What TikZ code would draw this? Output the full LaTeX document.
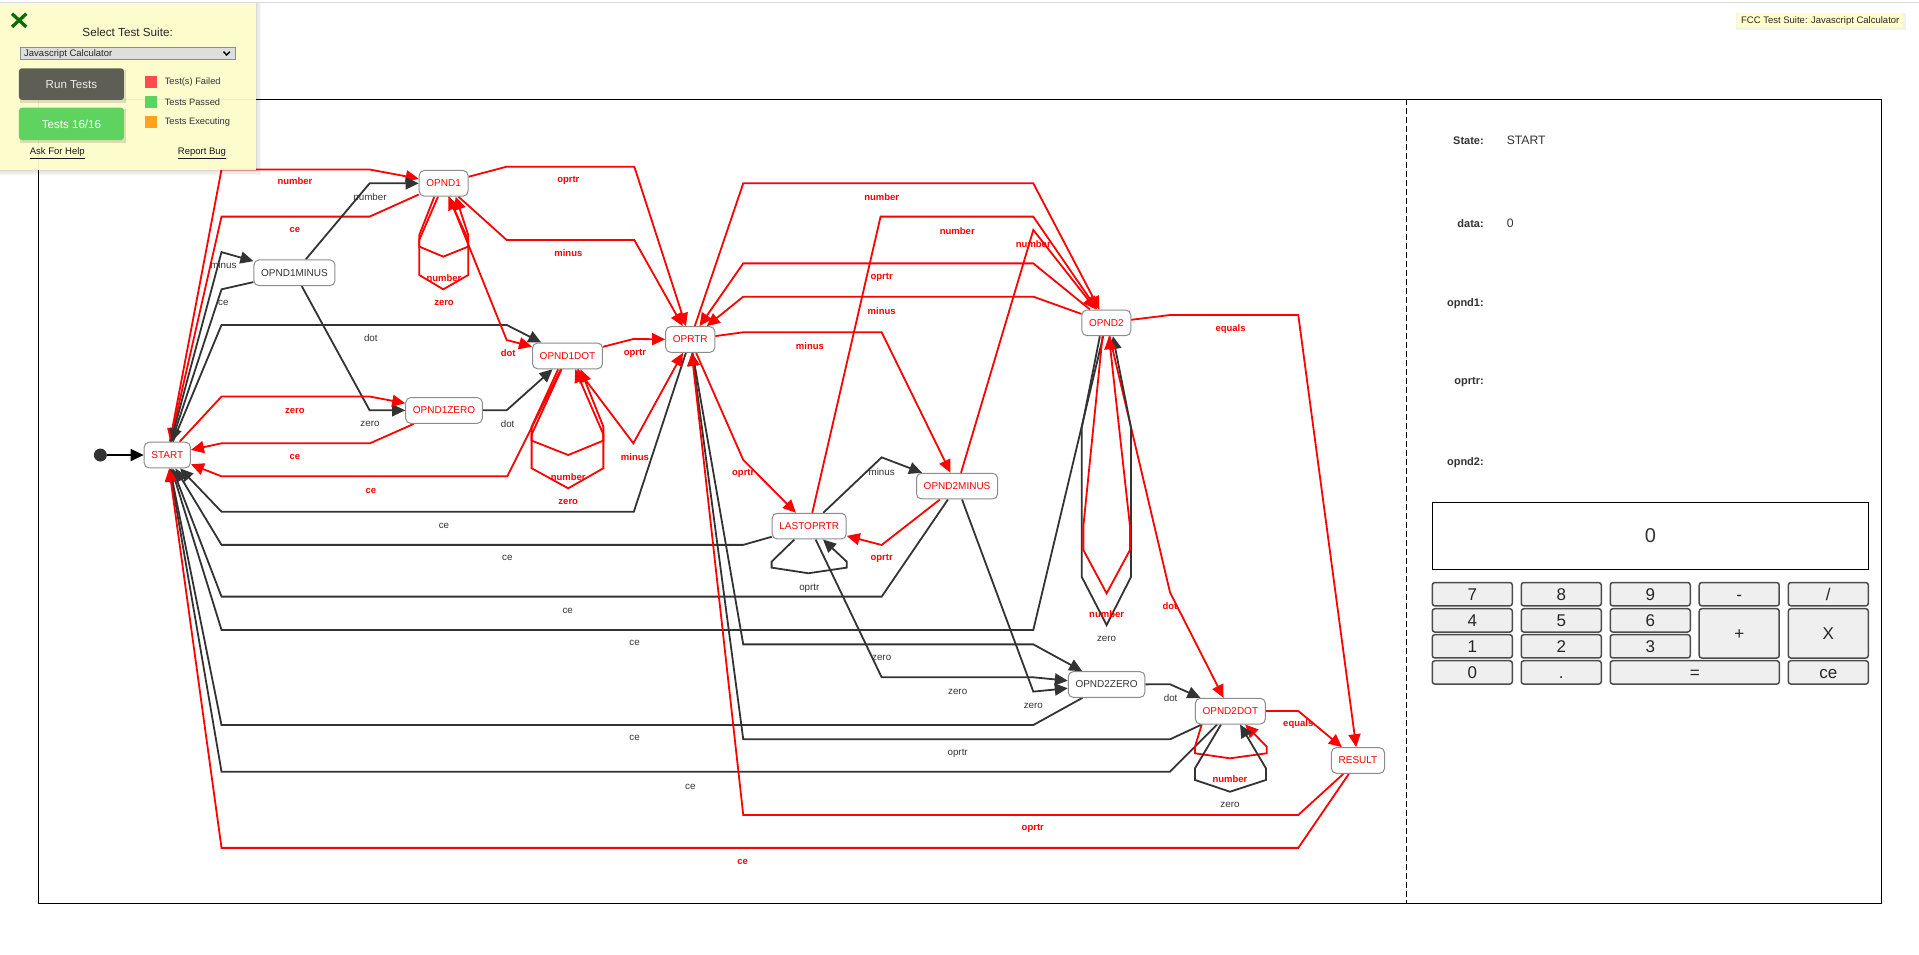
\documentclass[tikz,border=0pt]{standalone}
\usepackage{fontspec}
\setmainfont{Liberation Sans}
\usetikzlibrary{arrows.meta}
\definecolor{dk}{HTML}{333333}
\definecolor{panelbg}{HTML}{FFFFCC}
\definecolor{runbtn}{HTML}{5F5E55}
\definecolor{passbtn}{HTML}{5FD35F}
\definecolor{xgreen}{HTML}{0B6B0B}
\definecolor{legred}{HTML}{FF4B4B}
\definecolor{legorange}{HTML}{FFA31F}
\definecolor{btnfill}{HTML}{EFEFEF}
\pgfdeclarelayer{bg}\pgfdeclarelayer{edges}\pgfdeclarelayer{top}
\pgfsetlayers{bg,edges,main,top}
\tikzset{
 st/.style={draw=black!45, fill=white, rounded corners=5pt, line width=1pt, minimum height=25.7pt, inner xsep=7.2pt, inner ysep=0pt, font=\fontsize{10}{12}\selectfont},
 sr/.style={st, text=red},
 sk/.style={st, text=dk},
 tipx/.style={-{Triangle[length=13pt,width=12pt]}},
 er/.style={draw=red, line width=1.8pt, tipx},
 ed/.style={draw=dk, line width=1.8pt, tipx},
 lr/.style={text=red, inner sep=0pt, font=\bfseries\fontsize{9.5}{11}\selectfont},
 ld/.style={text=dk, inner sep=0pt, font=\fontsize{9.8}{11}\selectfont},
 btn/.style={draw=black!70, fill=btnfill, line width=1.5pt, rounded corners=2.5pt, inner sep=0pt, minimum width=80pt, minimum height=23.3pt, text height=12.2pt, text depth=0pt, font=\fontsize{17}{18}\selectfont, text=black!85},
 plab/.style={text=dk, inner sep=0pt, anchor=east, font=\bfseries\fontsize{11}{12}\selectfont},
 pval/.style={text=dk, inner sep=0pt, anchor=west, font=\fontsize{12.2}{13}\selectfont},
}
\begin{document}
\begin{tikzpicture}[x=1.2239pt,y=-1.2239pt]
\useasboundingbox (0,0) rectangle (1568,780.3);
\begin{pgfonlayer}{bg}
\fill[white] (0,0) rectangle (1568,780.3);
\draw[black!15, line width=1.5pt] (0,2) -- (1568,2);
\draw[black, line width=1pt] (31.3,81.2) rectangle (1537,738.5);
\draw[black, line width=1.2pt, dash pattern=on 6pt off 3pt] (1149.5,81.2) -- (1149.5,738.5);
\end{pgfonlayer}

% ---------- state nodes ----------
\node[sr] (START) at (136.7,371.8) {START};
\node[sr] (OPND1) at (362.5,149.8) {OPND1};
\node[sk] (OPND1MINUS) at (240.6,222.9) {OPND1MINUS};
\node[sr] (OPND1DOT) at (463.7,290.8) {OPND1DOT};
\node[sr] (OPND1ZERO) at (362.8,335.4) {OPND1ZERO};
\node[sr] (OPRTR) at (564,277.4) {OPRTR};
\node[sr] (OPND2) at (904,263.8) {OPND2};
\node[sr] (OPND2MINUS) at (782,397.2) {OPND2MINUS};
\node[sr] (LASTOPRTR) at (661.2,429.9) {LASTOPRTR};
\node[sk] (OPND2ZERO) at (904.2,559.3) {OPND2ZERO};
\node[sr] (OPND2DOT) at (1005.3,581.1) {OPND2DOT};
\node[sr] (RESULT) at (1109.6,621.4) {RESULT};
\node[circle, fill=dk, minimum size=13pt, inner sep=0pt] (init) at (82,371.8) {};

\begin{pgfonlayer}{edges}
\draw[draw=black, line width=1.8pt, tipx] (init) -- (START);
% from START
\draw[er] (START) -- (181,138.5) -- (302,138.5) -- (OPND1);
\draw[er] (OPND1) -- (302,177) -- (181,177) -- (START);
\draw[ed] (START) -- (181,206) -- (OPND1MINUS);
\draw[ed] (OPND1MINUS) -- (181,236.4) -- (START);
\draw[ed] (OPND1MINUS) -- (302,149.8) -- (OPND1);
\draw[ed] (OPND1MINUS) -- (302,335.2) -- (OPND1ZERO);
\draw[ed] (START) -- (181,265.5) -- (414,265.5) -- (OPND1DOT);
\draw[er] (OPND1) -- (414,277.8) -- (OPND1DOT);
\draw[ed] (OPND1ZERO) -- (414,335.2) -- (OPND1DOT);
\draw[er] (START) -- (181,324) -- (302,324) -- (OPND1ZERO);
\draw[er] (OPND1ZERO) -- (302.3,362.2) -- (181,362.2) -- (START);
\draw[er] (OPND1DOT) -- (414.5,389.2) -- (181,389.2) -- (START);
\draw[ed] (OPRTR) -- (517.9,418.1) -- (181,418.1) -- (START);
\draw[ed] (LASTOPRTR) -- (607.3,445.2) -- (181,445.2) -- (START);
\draw[ed] (OPND2MINUS) -- (720.4,487.5) -- (181,487.5) -- (START);
\draw[ed] (OPND2) -- (844.3,514.7) -- (181,514.7) -- (START);
\draw[ed] (OPND2ZERO) -- (844.3,592.4) -- (181,592.4) -- (START);
\draw[ed] (OPND2DOT) -- (956,630.5) -- (181,630.5) -- (START);
\draw[er] (RESULT) -- (1060.8,692.8) -- (181,692.8) -- (START);
% to OPRTR
\draw[er] (OPND1DOT) -- (517.5,277) -- (OPRTR);
\draw[er] (OPND1) -- (414,136.2) -- (518.3,136.2) -- (OPRTR);
\draw[er] (OPND1) -- (414,196.1) -- (518.3,196.1) -- (OPRTR);
\draw[er] (OPND1DOT) -- (517.5,362.2) -- (OPRTR);
\draw[er] (OPRTR) -- (607.3,149.8) -- (844.3,149.8) -- (OPND2);
\draw[er] (OPRTR) -- (607.3,271.5) -- (720.4,271.5) -- (OPND2MINUS);
\draw[er] (OPND2) -- (844.3,215.2) -- (607.3,215.2) -- (OPRTR);
\draw[er] (OPND2) -- (844.3,242.4) -- (607.3,242.4) -- (OPRTR);
\draw[er] (LASTOPRTR) -- (719.5,177) -- (844.3,177) -- (OPND2);
\draw[er] (OPND2MINUS) -- (844.3,187.9) -- (OPND2);
\draw[er] (OPRTR) -- (607.3,375.8) -- (LASTOPRTR);
\draw[er] (OPND2MINUS) -- (720.4,445.3) -- (LASTOPRTR);
\draw[ed] (LASTOPRTR) -- (720.4,373.7) -- (OPND2MINUS);
\draw[ed] (LASTOPRTR.222) -- (630.5,458.9) -- (630.5,463.8) -- (660.5,468.4) -- (691.8,463.8) -- (691.8,458.9) -- (LASTOPRTR.316);
\draw[ed] (OPRTR) -- (607.3,526.5) -- (844.3,526.5) -- (OPND2ZERO);
\draw[ed] (LASTOPRTR) -- (720.4,553.4) -- (844.3,553.4) -- (OPND2ZERO);
\draw[ed] (OPND2MINUS) -- (844.3,565.1) -- (OPND2ZERO);
\draw[ed] (OPND2DOT) -- (956,604.1) -- (607.3,604.1) -- (OPRTR);
\draw[er] (RESULT) -- (1060.8,665.9) -- (607.3,665.9) -- (OPRTR);
\draw[ed] (OPND2ZERO) -- (956,559.1) -- (OPND2DOT);
\draw[er] (OPND2) -- (956,484) -- (OPND2DOT);
\draw[er] (OPND2) -- (956,257.4) -- (1060.8,257.4) -- (RESULT);
\draw[er] (OPND2DOT) -- (1060.8,580.9) -- (RESULT);
% self loops
\draw[er] (OPND1.247) -- (342.6,196) -- (342.6,201.5) -- (362.2,209.7) -- (382.6,201.5) -- (382.6,196) -- (OPND1.290);
\draw[er] (OPND1.235) -- (342.6,192) -- (342.6,224.7) -- (362.2,236.4) -- (382.6,224.7) -- (382.6,192) -- (OPND1.312);
\draw[er] (OPND1DOT.246) -- (434.4,355) -- (434.4,360) -- (464.3,371.8) -- (493,360) -- (493,355) -- (OPND1DOT.300);
\draw[er] (OPND1DOT.235) -- (434.4,348.6) -- (434.4,382.6) -- (464.3,399) -- (493,382.6) -- (493,348.6) -- (OPND1DOT.314);
\draw[ed] (OPND2.244) -- (883.8,350) -- (883.8,471.2) -- (904.2,510.7) -- (924.2,471.2) -- (924.2,350) -- (OPND2.296);
\draw[er] (OPND2.254) -- (885.2,430) -- (885.2,449.4) -- (904.2,484.8) -- (923.3,449.4) -- (923.3,430) -- (OPND2.281);
\draw[er] (OPND2DOT.205) -- (976.4,610.1) -- (976.4,615.5) -- (1005,619.6) -- (1035,615.5) -- (1035,610.1) -- (OPND2DOT.318);
\draw[ed] (OPND2DOT.235) -- (976.4,627.8) -- (976.4,637.3) -- (1005,646.9) -- (1034.4,637.3) -- (1034.4,627.8) -- (OPND2DOT.306);
\end{pgfonlayer}

% ---------- edge labels ----------
\node[lr] (a1) at (241,148) {number};
\node[lr] (a2) at (241,187.9) {ce};
\node[ld] (a3) at (182.5,216.5) {minus};
\node[ld] (a4) at (182.5,247.8) {ce};
\node[ld] (a5) at (302.3,161.2) {number};
\node[ld] (a6) at (302.3,346.7) {zero};
\node[ld] (a7) at (303,276.4) {dot};
\node[lr] (a8) at (415.3,288.7) {dot};
\node[ld] (a9) at (414.8,346.4) {dot};
\node[lr] (a10) at (241,335.5) {zero};
\node[lr] (a11) at (241,373.7) {ce};
\node[lr] (a12) at (303,400.9) {ce};
\node[ld] (a13) at (362.8,429.5) {ce};
\node[ld] (a14) at (414.5,456.2) {ce};
\node[ld] (a15) at (463.9,499) {ce};
\node[ld] (a16) at (518.5,525.6) {ce};
\node[ld] (a17) at (518.5,603.3) {ce};
\node[ld] (a18) at (564.1,642.7) {ce};
\node[lr] (a19) at (606.8,704) {ce};
\node[lr] (a20) at (518.8,288.7) {oprtr};
\node[lr] (a21) at (464.4,147.6) {oprtr};
\node[lr] (a22) at (464.4,207) {minus};
\node[lr] (a23) at (518.8,373.7) {minus};
\node[lr] (a24) at (720.4,161.2) {number};
\node[lr] (a25) at (661.8,283.2) {minus};
\node[lr] (a26) at (720.4,226.6) {oprtr};
\node[lr] (a27) at (720.4,253.9) {minus};
\node[lr] (a28) at (782.2,188.5) {number};
\node[lr] (a29) at (844.3,199.6) {number};
\node[lr] (a30) at (607.3,386.7) {oprtr};
\node[lr] (a31) at (720.4,456.2) {oprtr};
\node[ld] (a32) at (720.4,385.4) {minus};
\node[ld] (a33) at (661.3,480.7) {oprtr};
\node[ld] (a34) at (720.4,537.9) {zero};
\node[ld] (a35) at (782.5,565.1) {zero};
\node[ld] (a36) at (844.3,576.6) {zero};
\node[ld] (a37) at (782.5,615.5) {oprtr};
\node[lr] (a38) at (843.9,676.8) {oprtr};
\node[ld] (a39) at (956.5,570.6) {dot};
\node[lr] (a40) at (956,495.1) {dot};
\node[lr] (a41) at (1005.5,269.1) {equals};
\node[lr] (a42) at (1060.8,591.8) {equals};
\node[lr] (a43) at (362.8,226.9) {number};
\node[lr] (a44) at (362.8,247.8) {zero};
\node[lr] (a45) at (464.3,390) {number};
\node[lr] (a46) at (464.3,410.4) {zero};
\node[lr] (a47) at (904.2,501.7) {number};
\node[ld] (a48) at (904.2,522.4) {zero};
\node[lr] (a49) at (1005,636.8) {number};
\node[ld] (a50) at (1005,657.7) {zero};

% ---------- right panel ----------
\node[plab] (kState) at (1212.5,115) {State:};
\node[pval] (vState) at (1231,115) {START};
\node[plab] (kData) at (1212.5,182.5) {data:};
\node[pval] (vData) at (1231,182.5) {0};
\node[plab] (kO1) at (1212.5,247.8) {opnd1:};
\node[plab] (kOp) at (1212.5,312.4) {oprtr:};
\node[plab] (kO2) at (1212.5,377.8) {opnd2:};
\node[draw=black, line width=1.2pt, minimum width=436.3pt, minimum height=67.1pt, inner sep=0pt, font=\fontsize{20}{22}\selectfont, text=dk] (display) at (1348.5,437.8) {0};
\node[btn] (b7) at (1203,485.5) {7};
\node[btn] (b8) at (1275.7,485.5) {8};
\node[btn] (b9) at (1348.4,485.5) {9};
\node[btn] (bminus) at (1421.1,485.5) {-};
\node[btn] (bdiv) at (1493.9,485.5) {/};
\node[btn] (b4) at (1203,506.9) {4};
\node[btn] (b5) at (1275.7,506.9) {5};
\node[btn] (b6) at (1348.4,506.9) {6};
\node[btn, minimum height=49.3pt] (bplus) at (1421.1,517.5) {+};
\node[btn, minimum height=49.3pt] (bmul) at (1493.9,517.5) {X};
\node[btn] (b1) at (1203,528.1) {1};
\node[btn] (b2) at (1275.7,528.1) {2};
\node[btn] (b3) at (1348.4,528.1) {3};
\node[btn] (b0) at (1203,549.4) {0};
\node[btn] (bdot) at (1275.7,549.4) {.};
\node[btn, minimum width=169pt] (beq) at (1384.8,549.4) {=};
\node[btn] (bce) at (1493.9,549.4) {ce};

% ---------- overlays ----------
\begin{pgfonlayer}{top}
\fill[black, opacity=0.05] (1418.5,10.4) rectangle (1557.5,24.3);
\fill[panelbg] (1419.5,10.9) rectangle (1555.1,22.3);
\node[inner sep=0pt, text=black!85, font=\fontsize{9.5}{10}\selectfont] (tooltip) at (1487.3,16.8) {FCC Test Suite: Javascript Calculator};
\foreach \i in {1,2,3,4}{\fill[black, opacity=0.035] (0,2.5) rectangle (209.2+\i,138.9+\i);}
\fill[panelbg, opacity=0.93] (0,2.5) rectangle (209.2,138.9);
\draw[xgreen, line width=3.3pt] (9.8,11.2) -- (21.5,22) (9.8,22) -- (21.5,11.2);
\node[inner sep=0pt, text=black!85, font=\fontsize{11.7}{13}\selectfont] (suiteTitle) at (104.3,26.7) {Select Test Suite:};
\node[draw=black!45, fill=black!13, line width=0.8pt, minimum width=215pt, minimum height=11.6pt, inner sep=0pt] (dropdown) at (104.75,43.75) {};
\node[inner sep=0pt, anchor=west, text=black!85, font=\fontsize{9.5}{10}\selectfont] (suiteName) at (19.6,43.8) {Javascript Calculator};
\draw[black, line width=1.4pt] (182.6,42.2) -- (185.2,44.9) -- (187.8,42.2);
\fill[black, opacity=0.12] (16.5,57) rectangle (103,84);
\node[fill=runbtn, rounded corners=3pt, minimum width=105pt, minimum height=31.7pt, inner sep=0pt, text=white!92!black, font=\fontsize{11.6}{13}\selectfont] (runTests) at (58.4,68.75) {Run Tests};
\fill[black, opacity=0.12] (16.5,89.2) rectangle (103,116.5);
\node[fill=passbtn, rounded corners=3pt, minimum width=105pt, minimum height=32.3pt, inner sep=0pt, text=white, font=\fontsize{11.6}{13}\selectfont] (testsBtn) at (58.4,101.2) {Tests 16/16};
\fill[legred] (118.5,62.1) rectangle (128.3,71.9);
\fill[passbtn] (118.5,78.4) rectangle (128.3,88.2);
\fill[legorange] (118.5,94.8) rectangle (128.3,104.6);
\node[inner sep=0pt, anchor=west, text=dk, font=\fontsize{9.3}{10}\selectfont] (lgFail) at (134.5,66.8) {Test(s) Failed};
\node[inner sep=0pt, anchor=west, text=dk, font=\fontsize{9.3}{10}\selectfont] (lgPass) at (134.5,83.1) {Tests Passed};
\node[inner sep=0pt, anchor=west, text=dk, font=\fontsize{9.3}{10}\selectfont] (lgExec) at (134.5,99.4) {Tests Executing};
\node[inner sep=0pt, text=black!90, font=\fontsize{9.5}{10}\selectfont] (askHelp) at (46.8,125.3) {\underline{Ask For Help}};
\node[inner sep=0pt, text=black!90, font=\fontsize{9.5}{10}\selectfont] (reportBug) at (165,125.3) {\underline{Report Bug}};
\end{pgfonlayer}
\end{tikzpicture}
\end{document}
